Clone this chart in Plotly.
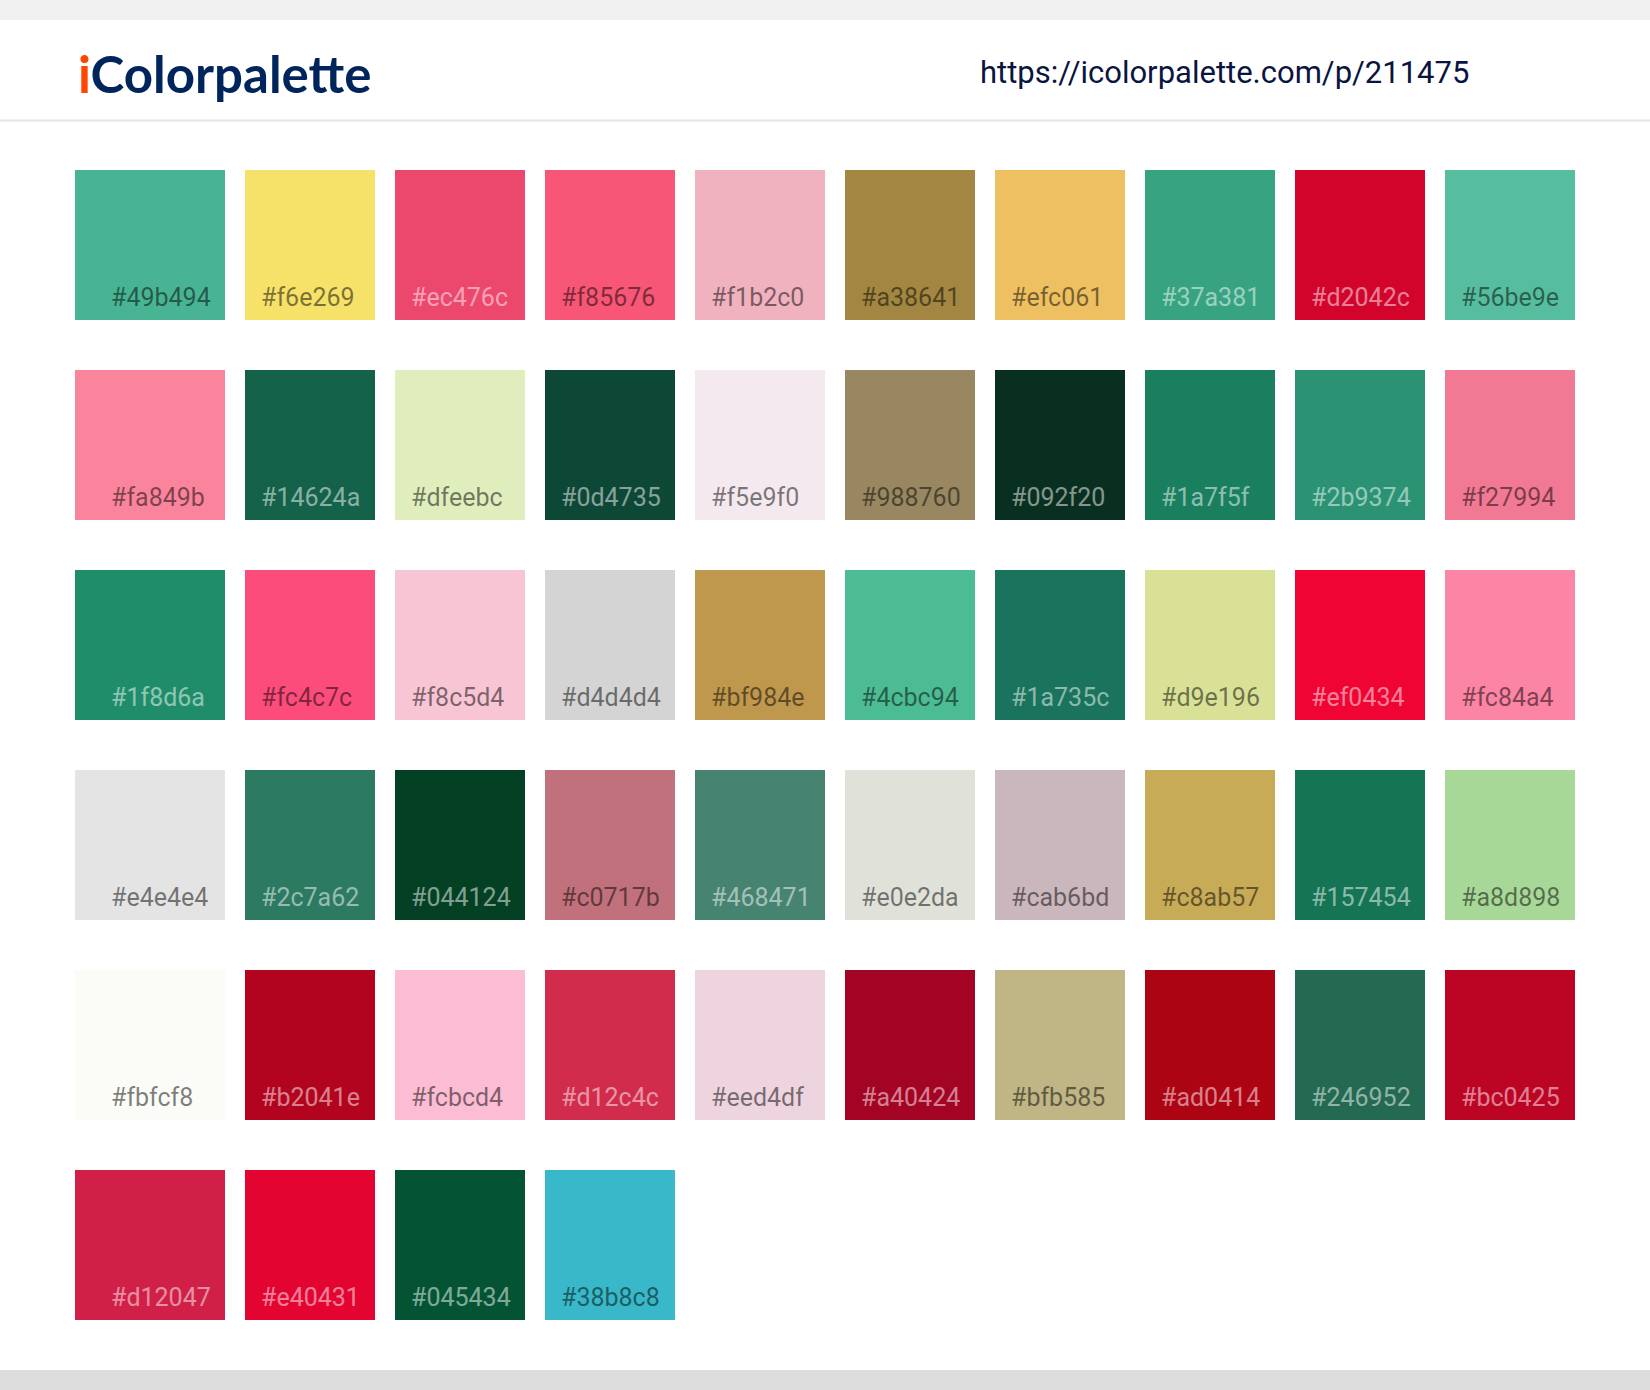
import plotly.graph_objects as go

# Palette, row by row, as printed in the picture
row_1 = ["#49b494", "#f6e269", "#ec476c", "#f85676", "#f1b2c0", "#a38641", "#efc061", "#37a381", "#d2042c", "#56be9e"]
row_2 = ["#fa849b", "#14624a", "#dfeebc", "#0d4735", "#f5e9f0", "#988760", "#092f20", "#1a7f5f", "#2b9374", "#f27994"]
row_3 = ["#1f8d6a", "#fc4c7c", "#f8c5d4", "#d4d4d4", "#bf984e", "#4cbc94", "#1a735c", "#d9e196", "#ef0434", "#fc84a4"]
row_4 = ["#e4e4e4", "#2c7a62", "#044124", "#c0717b", "#468471", "#e0e2da", "#cab6bd", "#c8ab57", "#157454", "#a8d898"]
row_5 = ["#fbfcf8", "#b2041e", "#fcbcd4", "#d12c4c", "#eed4df", "#a40424", "#bfb585", "#ad0414", "#246952", "#bc0425"]
row_6 = ["#d12047", "#e40431", "#045434", "#38b8c8"]
rows = [row_1, row_2, row_3, row_4, row_5, row_6]

logo_i = "i"
logo_rest = "Colorpalette"
url_text = "https://icolorpalette.com/p/211475"

FONT = "Liberation Sans Narrow, Roboto, sans-serif"


def label_color(hex_color):
    r, g, b = (int(hex_color[i:i + 2], 16) for i in (1, 3, 5))
    yiq = 0.299 * r + 0.587 * g + 0.114 * b
    return "rgba(0,0,0,0.5)" if yiq >= 128 else "rgba(255,255,255,0.5)"


xs, widths, bases, colors, tx, ty, tc, labels = [], [], [], [], [], [], [], []
for r, row in enumerate(rows):
    top = 170 + 200 * r
    for c, col in enumerate(row):
        left = 75 if c == 0 else 245 + 150 * (c - 1)
        w = 150 if c == 0 else 130
        xs.append(left + w / 2)
        widths.append(w)
        bases.append(top)
        colors.append(col)
        tx.append(left + (36 if c == 0 else 16))
        ty.append(top + 130)
        tc.append(label_color(col))
        labels.append(col)

fig = go.Figure()
fig.add_trace(go.Bar(x=xs, y=[150] * len(xs), base=bases, width=widths,
                     marker=dict(color=colors, line=dict(width=0)), hoverinfo="skip"))
fig.add_trace(go.Scatter(x=tx, y=ty, mode="text", text=labels, textposition="middle right",
                         textfont=dict(family=FONT, size=25, color=tc), hoverinfo="skip"))

shapes = [
    dict(type="rect", x0=0, x1=1650, y0=0, y1=20, fillcolor="#f0f0f0", line_width=0, layer="below"),
    dict(type="rect", x0=0, x1=1650, y0=119.5, y1=121.5, fillcolor="#e4e4e4", line_width=0, layer="below"),
    dict(type="rect", x0=0, x1=1650, y0=1370, y1=1390, fillcolor="#dcdcdc", line_width=0, layer="below"),
]

annotations = [
    dict(x=76, y=73, xref="x", yref="y", xanchor="left", yanchor="middle", showarrow=False,
         text=f'<b><span style="color:#ff4500">{logo_i}</span>{logo_rest}</b>',
         font=dict(family="Lato, sans-serif", size=51, color="#00255c")),
    dict(x=978, y=72, xref="x", yref="y", xanchor="left", yanchor="middle", showarrow=False,
         text=url_text, font=dict(family=FONT, size=31, color="#0a1440")),
]

fig.update_layout(
    width=1650, height=1390, margin=dict(l=0, r=0, t=0, b=0),
    paper_bgcolor="#ffffff", plot_bgcolor="#ffffff", showlegend=False, bargap=0,
    xaxis=dict(range=[0, 1650], visible=False, fixedrange=True),
    yaxis=dict(range=[1390, 0], visible=False, fixedrange=True),
    shapes=shapes, annotations=annotations,
)

fig.write_html("out.html", config={"displayModeBar": False},
               post_script="document.body.style.margin='0';document.body.style.overflow='hidden';")
